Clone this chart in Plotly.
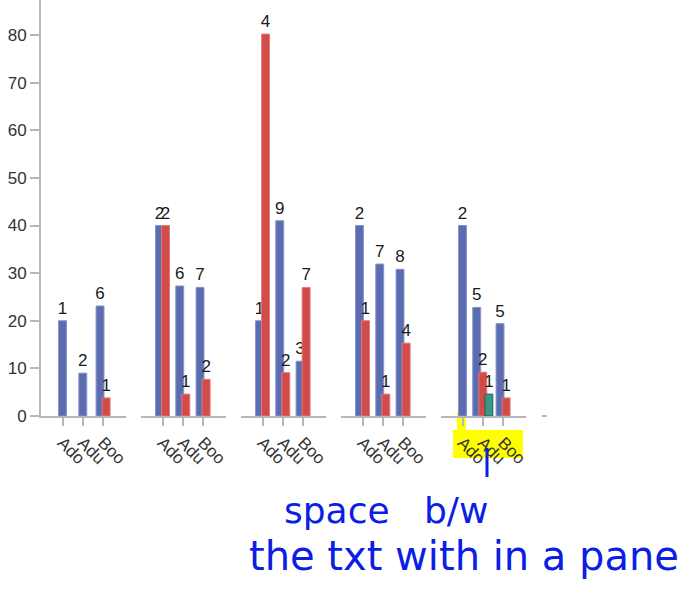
import plotly.graph_objects as go

# ---------------- data ----------------
panels = ["P1", "P2", "P3", "P4", "P5"]
categories = ["Ado", "Adu", "Boo"]

blue_pct = [[20, 9, 23.1], [40, 27.3, 27], [20, 41, 11.5], [40, 31.9, 30.8], [40, 22.8, 19.4]]
blue_cnt = [[1, 2, 6], [2, 6, 7], [1, 9, 3], [2, 7, 8], [2, 5, 5]]

red_pct = [[None, None, 3.8], [40, 4.6, 7.7], [80.2, 9.1, 27], [20, 4.6, 15.3], [None, 9.2, 3.8]]
red_cnt = [[None, None, 1], [2, 1, 2], [4, 2, 7], [1, 1, 4], [None, 2, 1]]

teal_pct = [[None, None, None], [None, None, None], [None, None, None], [None, None, None], [None, 4.6, None]]
teal_cnt = [[None, None, None], [None, None, None], [None, None, None], [None, None, None], [None, 1, None]]

y_ticks = [0, 10, 20, 30, 40, 50, 60, 70, 80]

series = [
    ("Blue", blue_pct, blue_cnt, "#5b6db0", "#8494cc"),
    ("Red", red_pct, red_cnt, "#d14b4a", "#e27a78"),
    ("Teal", teal_pct, teal_cnt, "#3a9686", "#1f6357"),
]

# ---------------- geometry (pixels) ----------------
W, H = 686, 591
ML, MR, MT, MB = 41, 0, 0, 175
PW = W - ML - MR
PH = H - MT - MB

def px_x(p):
    return (p - ML) / PW

def px_y(p):
    return (MT + PH - p) / PH

BAR_W = 0.39
STEP = 0.30

fig = go.Figure()

for pi, pname in enumerate(panels):
    axname = "x" if pi == 0 else f"x{pi + 1}"
    present = []
    for ci in range(len(categories)):
        present.append([si for si, s in enumerate(series) if s[1][pi][ci] is not None])
    for si, (sname, pct, cnt, col, lcol) in enumerate(series):
        xs, ys, txt, offs = [], [], [], []
        for ci, cat in enumerate(categories):
            v = pct[pi][ci]
            if v is None:
                continue
            n = len(present[ci])
            k = present[ci].index(si)
            center = (k - (n - 1) / 2) * STEP
            xs.append(cat)
            ys.append(v)
            txt.append(str(cnt[pi][ci]))
            offs.append(center - BAR_W / 2)
        if not xs:
            continue
        fig.add_trace(go.Bar(
            x=xs, y=ys, text=txt, name=sname,
            xaxis=axname, yaxis="y",
            width=BAR_W, offset=offs,
            marker=dict(color=col, line=dict(color=lcol, width=1)),
            textposition="outside", constraintext="none", cliponaxis=False,
            textfont=dict(size=17, color="#1a1a1a", family="Liberation Sans, Arial"),
            showlegend=False, hoverinfo="skip",
        ))

layout = dict(
    width=W, height=H,
    margin=dict(l=ML, r=MR, t=MT, b=MB, autoexpand=False),
    paper_bgcolor="white", plot_bgcolor="rgba(0,0,0,0)",
    barmode="overlay",
    font=dict(family="Liberation Sans, Arial", color="#333"),
    yaxis=dict(
        range=[0, 87.35], tickvals=y_ticks, showgrid=False, zeroline=False,
        showline=True, linecolor="#b4b8bc", linewidth=2,
        ticks="outside", ticklen=9, tickcolor="#b4b8bc", tickwidth=2,
        tickfont=dict(size=17, color="#333"), anchor="x", automargin=False,
    ),
)
for pi in range(len(panels)):
    key = "xaxis" if pi == 0 else f"xaxis{pi + 1}"
    start = ML + 100 * pi
    layout[key] = dict(
        domain=[px_x(start), px_x(start + 85)],
        type="category", categoryorder="array", categoryarray=categories,
        range=[-1.06, 3.13], anchor="y",
        showgrid=False, zeroline=False, automargin=False,
        showline=True, linecolor="#b4b8bc", linewidth=2,
        ticks="outside", ticklen=8, tickcolor="#b4b8bc", tickwidth=2,
        tickangle=45, tickfont=dict(size=17, color="#333"),
    )
fig.update_layout(**layout)

# highlight & sketch annotations
fig.add_shape(type="rect", xref="paper", yref="paper",
              x0=px_x(453), x1=px_x(523), y0=px_y(458), y1=px_y(430),
              fillcolor="#ffff00", line=dict(width=0), layer="below")
fig.add_shape(type="rect", xref="paper", yref="paper",
              x0=px_x(457), x1=px_x(466), y0=px_y(431), y1=px_y(412),
              fillcolor="#ffff00", line=dict(width=0), layer="below")
fig.add_shape(type="line", xref="paper", yref="paper",
              x0=px_x(487), x1=px_x(487), y0=px_y(448), y1=px_y(477),
              line=dict(color="#0a1ee6", width=3), layer="above")
fig.add_shape(type="line", xref="paper", yref="paper",
              x0=px_x(542), x1=px_x(547), y0=px_y(416), y1=px_y(416),
              line=dict(color="#b4b8bc", width=2), layer="above")

fig.add_annotation(text="space   b/w", xref="paper", yref="paper",
                   x=px_x(386), y=px_y(510), xanchor="center", yanchor="middle",
                   showarrow=False,
                   font=dict(size=36, color="#0a1ee6", family="DejaVu Sans"))
fig.add_annotation(text="the txt with in a pane", xref="paper", yref="paper",
                   x=px_x(464), y=px_y(556), xanchor="center", yanchor="middle",
                   showarrow=False,
                   font=dict(size=40, color="#0a1ee6", family="DejaVu Sans"))

fig.write_html("out.html", config={"displayModeBar": False},
               post_script="document.body.style.margin='0';")
